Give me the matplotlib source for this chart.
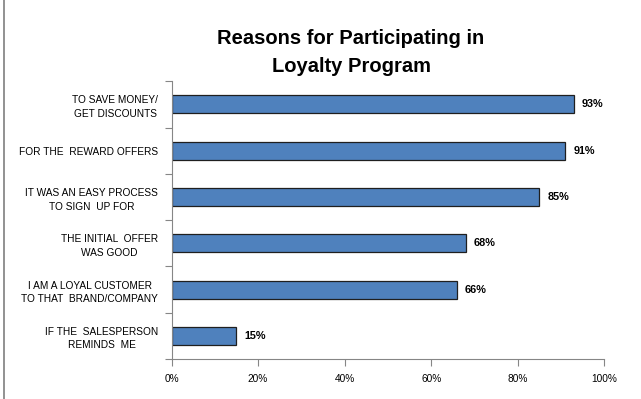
import matplotlib
matplotlib.use("Agg")
import matplotlib.pyplot as plt
from matplotlib.lines import Line2D

categories = [
    "TO SAVE MONEY/\nGET DISCOUNTS",
    "FOR THE  REWARD OFFERS",
    "IT WAS AN EASY PROCESS\nTO SIGN  UP FOR",
    "THE INITIAL  OFFER\nWAS GOOD",
    "I AM A LOYAL CUSTOMER\nTO THAT  BRAND/COMPANY",
    "IF THE  SALESPERSON\nREMINDS  ME",
]
values = [93, 91, 85, 68, 66, 15]
xticks = [0, 20, 40, 60, 80, 100]
xtick_labels = ["0%", "20%", "40%", "60%", "80%", "100%"]
title = "Reasons for Participating in\nLoyalty Program"

plt.rcParams['font.family'] = ['Liberation Sans', 'DejaVu Sans']

fig = plt.figure(figsize=(6.41, 3.99), dpi=100)
W, H = 641, 399
left, right, top, bottom = 171.5, 604.3, 81.2, 359.0
ax = fig.add_axes([left / W, 1 - bottom / H, (right - left) / W, (bottom - top) / H])

n = len(categories)
ypos = list(range(n))
ax.barh(ypos, values, height=0.39, color="#4F81BD", edgecolor="#1F1F1F", linewidth=0.9)
ax.set_ylim(n - 0.5, -0.5)
ax.set_xlim(0, 100)

for y, v in zip(ypos, values):
    ax.text(v + 1.8, y, f"{v}%", va="center", ha="left", fontsize=7.8, fontweight="bold", color="#000000")

ax.set_xticks(xticks)
ax.set_xticklabels(xtick_labels, fontsize=7.3)
ax.set_yticks([i - 0.5 for i in range(n + 1)], minor=False)
ax.set_yticklabels([""] * (n + 1))
ax.set_yticks(ypos, minor=True)
ax.set_yticklabels(categories, minor=True, fontsize=7.3, ha="right", multialignment="center",
                   linespacing=1.45)
ax.tick_params(axis="y", which="minor", length=0, pad=9.5)
ax.tick_params(axis="y", which="major", length=5, color="#868686", width=0.8)
ax.tick_params(axis="x", length=5, color="#868686", width=0.8, pad=6)

for s in ["top", "right"]:
    ax.spines[s].set_visible(False)
for s in ["left", "bottom"]:
    ax.spines[s].set_color("#868686")
    ax.spines[s].set_linewidth(0.8)

fig.text(351 / W, 1 - 52 / H, title, ha="center", va="center", fontsize=14.5,
         fontweight="bold", linespacing=1.6)

fig.add_artist(Line2D([3.5 / W, 3.5 / W], [0, 1], color="#7F7F7F", linewidth=1.2,
                      transform=fig.transFigure))

fig.savefig("out.png", dpi=100)
